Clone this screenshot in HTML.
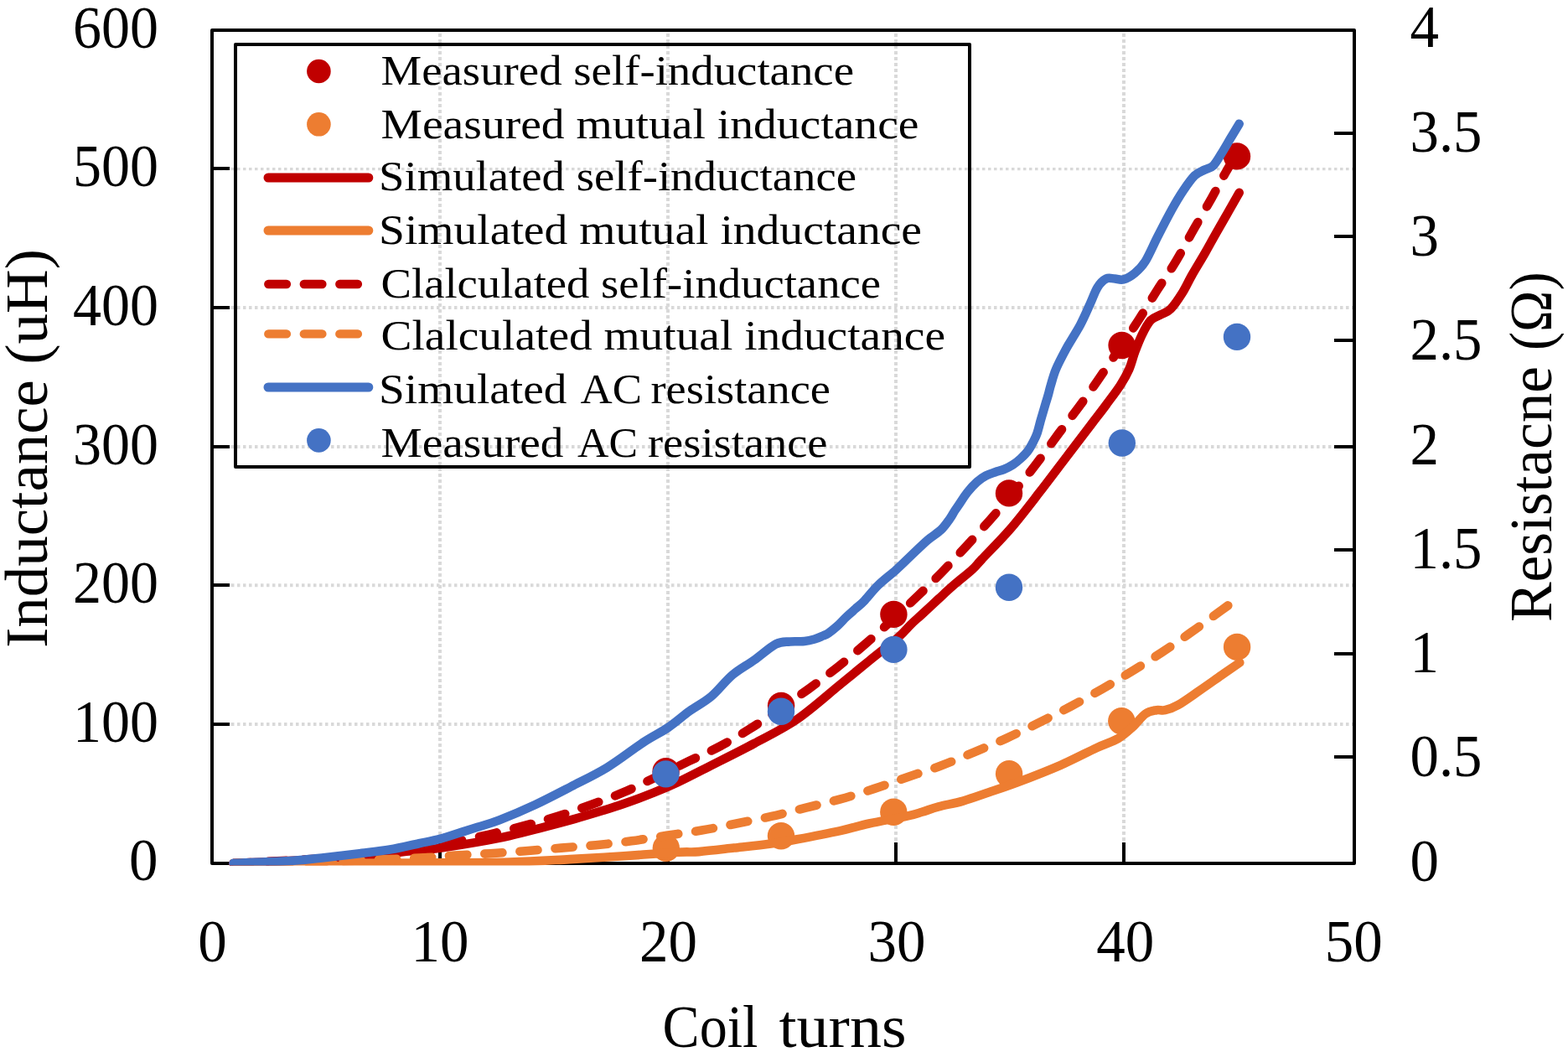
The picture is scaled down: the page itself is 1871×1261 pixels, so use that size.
<!DOCTYPE html>
<html lang="en"><head><meta charset="utf-8"><title>Inductance and resistance versus coil turns</title>
<style>html,body{margin:0;padding:0;background:#fff;overflow:hidden}svg{display:block}text{font-family:"Liberation Serif",serif;fill:#000}</style></head><body>
<svg width="1871" height="1261" viewBox="0 0 1871 1261">
<defs><clipPath id="plot"><rect x="240" y="30" width="1380" height="1002.5"/></clipPath></defs>
<rect width="1871" height="1261" fill="#fff"/>
<g stroke="#D9D9D9" fill="none">
<path stroke-width="3.4" stroke-dasharray="3.5 3.5" d="M255 201.6H1614"/>
<path stroke-width="4.0" stroke-dasharray="3.5 3.5" d="M255 367.1H1614"/>
<path stroke-width="4.0" stroke-dasharray="3.5 3.5" d="M255 533.0H1614"/>
<path stroke-width="4.0" stroke-dasharray="3.5 3.5" d="M255 698.2H1614"/>
<path stroke-width="4.0" stroke-dasharray="3.5 3.5" d="M255 864.1H1614"/>
<path stroke-width="4" stroke-dasharray="4 3" d="M525.0 40V1028"/>
<path stroke-width="4" stroke-dasharray="4 3" d="M797.0 40V1028"/>
<path stroke-width="4" stroke-dasharray="4 3" d="M1069.0 40V1028"/>
<path stroke-width="4" stroke-dasharray="4 3" d="M1341.0 40V1028"/>
</g>
<g stroke="#000" stroke-width="4" fill="none">
<rect x="253" y="36" width="1363" height="994" stroke-linejoin="round"/>
<path d="M253 201.0H274M253 367.0H274M253 533.0H274M253 698.0H274M253 864.0H274M1592 159.0H1616M1592 282.0H1616M1592 406.0H1616M1592 533.0H1616M1592 656.0H1616M1592 780.0H1616M1592 903.0H1616M525.0 1005V1030M797.0 1005V1030M1069.0 1005V1030M1341.0 1005V1030"/>
</g>
<g clip-path="url(#plot)">
<circle cx="794.6" cy="920.3" r="16.2" fill="#C00000"/><circle cx="932.1" cy="842.0" r="16.2" fill="#C00000"/><circle cx="1066.4" cy="732.9" r="16.2" fill="#C00000"/><circle cx="1204.0" cy="588.4" r="16.2" fill="#C00000"/><circle cx="1338.6" cy="412.0" r="16.2" fill="#C00000"/><circle cx="1476.0" cy="186.4" r="16.2" fill="#C00000"/>
<circle cx="794.8" cy="1011.8" r="16.2" fill="#ED7D31"/><circle cx="932.0" cy="997.2" r="16.2" fill="#ED7D31"/><circle cx="1066.3" cy="968.7" r="16.2" fill="#ED7D31"/><circle cx="1204.1" cy="923.2" r="16.2" fill="#ED7D31"/><circle cx="1338.3" cy="860.3" r="16.2" fill="#ED7D31"/><circle cx="1476.1" cy="771.9" r="16.2" fill="#ED7D31"/>
<g fill="none" stroke-width="10.6" stroke-linecap="round" stroke-linejoin="round">
<path stroke="#C00000" d="M278.5 1030.0C298.8 1029.0 363.1 1026.6 400.0 1024.0C436.9 1021.4 479.2 1016.3 500.0 1014.3C520.8 1012.2 513.3 1013.3 524.9 1011.7C536.5 1010.1 555.9 1007.1 569.8 1004.6C583.7 1002.1 595.5 999.9 608.3 997.0C621.1 994.1 634.0 990.6 646.8 987.3C659.6 984.0 673.0 980.5 685.2 977.1C697.4 973.7 710.2 969.8 720.0 966.8C729.8 963.8 734.1 962.5 744.1 959.0C754.1 955.5 769.3 950.0 780.0 945.7C790.7 941.4 796.9 938.8 808.3 933.4C819.7 928.0 833.2 920.9 848.5 913.2C863.8 905.5 882.8 896.2 899.9 887.0C917.0 877.8 934.2 869.8 951.3 858.0C968.4 846.2 988.4 828.1 1002.7 816.5C1017.0 804.9 1025.6 797.8 1037.0 788.5C1048.4 779.2 1062.9 768.2 1071.2 761.0C1079.5 753.8 1082.1 749.7 1086.9 745.0C1091.7 740.3 1094.5 738.1 1100.0 733.0C1105.5 727.9 1113.6 720.3 1119.9 714.5C1126.2 708.7 1131.0 704.1 1137.7 698.3C1144.4 692.5 1154.4 684.7 1160.0 679.6C1165.6 674.5 1163.7 675.6 1171.3 667.5C1178.9 659.4 1194.2 644.2 1205.6 631.0C1217.0 617.8 1228.4 602.8 1239.8 588.1C1251.2 573.5 1263.7 556.7 1274.1 543.1C1284.5 529.5 1294.4 516.5 1302.0 506.5C1309.6 496.5 1314.1 490.9 1319.9 483.0C1325.7 475.1 1332.4 466.4 1337.0 459.3C1341.6 452.2 1344.4 447.1 1347.3 440.5C1350.2 433.9 1351.6 426.9 1354.2 420.0C1356.8 413.1 1359.6 405.7 1362.7 399.4C1365.8 393.1 1369.3 386.2 1373.0 382.2C1376.7 378.2 1381.0 377.7 1385.0 375.4C1389.0 373.1 1392.7 372.8 1397.0 368.5C1401.3 364.2 1406.4 356.5 1410.7 349.7C1415.0 342.9 1418.1 335.5 1422.7 327.5C1427.3 319.5 1433.3 309.8 1438.1 301.5C1442.9 293.2 1444.5 289.8 1451.3 277.9C1458.1 266.0 1474.1 237.9 1478.7 229.9"/>
<path stroke="#ED7D31" d="M278.5 1030.0C315.4 1029.9 445.1 1029.8 500.0 1029.5C554.9 1029.2 578.0 1029.2 608.0 1028.5C638.0 1027.8 657.3 1026.3 680.0 1025.1C702.7 1023.9 722.6 1022.6 744.1 1021.2C765.6 1019.8 794.1 1017.6 809.1 1016.7C824.1 1015.9 822.8 1017.0 833.9 1016.1C845.0 1015.2 861.5 1013.2 875.9 1011.6C890.2 1010.0 907.4 1008.2 920.0 1006.5C932.6 1004.8 937.5 1003.9 951.3 1001.3C965.1 998.7 988.4 994.2 1002.7 991.1C1017.0 988.0 1023.7 985.4 1037.0 982.5C1050.3 979.6 1071.8 975.9 1082.3 973.6C1092.8 971.3 1093.7 970.7 1100.0 968.8C1106.3 966.9 1111.8 964.6 1120.0 962.4C1128.2 960.2 1139.1 958.5 1149.1 955.6C1159.1 952.8 1169.1 949.0 1179.9 945.3C1190.8 941.6 1199.9 938.7 1214.2 933.3C1228.5 927.9 1249.9 919.6 1265.6 912.8C1281.3 905.9 1297.0 897.5 1308.4 892.2C1319.8 886.9 1327.0 885.2 1334.1 881.1C1341.2 877.0 1345.8 872.5 1351.2 867.6C1356.6 862.7 1361.8 855.1 1366.6 851.7C1371.4 848.3 1376.1 848.0 1380.0 847.2C1383.9 846.5 1385.9 848.2 1390.2 847.2C1394.5 846.2 1398.8 845.1 1405.6 841.2C1412.4 837.3 1422.7 829.8 1431.3 823.9C1439.9 818.0 1449.0 811.5 1457.0 805.9C1465.0 800.3 1475.6 793.1 1479.3 790.5"/>
<path stroke="#C00000" stroke-dasharray="21.2 21.13" stroke-dashoffset="0.7" d="M278.5 1030.0C298.8 1028.8 363.1 1026.2 400.0 1023.0C436.9 1019.8 476.7 1014.1 500.0 1011.0C523.3 1007.9 526.2 1007.0 540.0 1004.5C553.8 1002.0 568.6 999.0 582.6 995.8C596.6 992.6 610.6 989.1 624.3 985.5C638.0 981.9 651.2 978.2 664.7 974.0C678.2 969.8 692.0 964.9 705.4 960.0C718.8 955.1 731.9 950.4 744.8 944.9C757.7 939.4 770.1 933.1 783.0 927.0C795.9 920.9 809.4 914.2 822.0 908.1C834.6 902.0 846.7 896.9 858.8 890.5C870.9 884.1 882.9 877.0 894.8 869.6C906.7 862.2 918.2 854.0 930.0 846.0C941.8 838.0 953.9 829.9 965.4 821.6C976.9 813.3 987.8 805.1 998.9 796.3C1010.0 787.5 1021.1 778.1 1031.8 768.9C1042.5 759.7 1052.6 750.5 1063.0 741.0C1073.4 731.5 1083.8 721.8 1094.0 712.0C1104.2 702.2 1114.4 692.5 1124.2 682.4C1134.0 672.3 1143.4 662.0 1153.0 651.6C1162.6 641.2 1172.3 630.5 1181.6 619.9C1190.9 609.3 1200.0 598.9 1209.0 588.0C1218.0 577.1 1226.5 566.5 1235.5 554.8C1244.5 543.0 1254.5 528.9 1263.0 517.5C1271.5 506.1 1278.5 497.5 1286.5 486.7C1294.5 475.9 1302.7 464.1 1310.8 452.5C1318.9 440.9 1327.0 428.8 1335.0 417.0C1343.0 405.2 1350.9 393.7 1358.5 381.9C1366.1 370.1 1373.3 357.9 1380.7 346.3C1388.1 334.7 1395.7 324.1 1403.0 312.0C1410.3 299.9 1417.3 286.1 1424.4 273.6C1431.5 261.1 1439.2 248.1 1445.5 236.8C1451.8 225.5 1456.8 215.8 1462.4 206.0C1468.0 196.2 1476.2 182.7 1479.0 178.0"/>
<path stroke="#ED7D31" stroke-dasharray="21.2 21.02" stroke-dashoffset="-4.5" d="M278.5 1030.0C298.8 1029.6 363.1 1028.6 400.0 1027.5C436.9 1026.4 476.2 1024.7 500.0 1023.5C523.8 1022.4 528.7 1021.5 542.9 1020.6C557.1 1019.7 571.2 1019.1 585.2 1018.2C599.2 1017.3 613.1 1016.4 627.1 1015.3C641.1 1014.2 655.5 1012.8 669.5 1011.6C683.5 1010.4 697.0 1009.6 711.0 1008.2C725.0 1006.8 739.3 1005.2 753.4 1003.3C767.5 1001.4 781.4 998.9 795.4 996.8C809.4 994.7 823.5 993.0 837.4 990.6C851.3 988.2 864.9 985.3 878.8 982.5C892.6 979.7 906.7 977.0 920.5 973.9C934.3 970.8 947.9 967.0 961.6 963.6C975.3 960.2 989.1 957.2 1002.7 953.4C1016.3 949.6 1029.9 945.3 1043.3 940.9C1056.7 936.5 1069.8 931.6 1083.2 927.0C1096.6 922.4 1110.2 918.2 1123.4 913.3C1136.6 908.3 1149.4 902.8 1162.4 897.3C1175.4 891.8 1188.5 886.5 1201.3 880.6C1214.1 874.8 1226.8 868.5 1239.5 862.2C1252.2 855.9 1264.7 849.6 1277.2 843.0C1289.7 836.4 1302.2 829.4 1314.5 822.4C1326.8 815.4 1338.8 808.1 1350.8 800.7C1362.8 793.3 1374.6 786.0 1386.4 778.2C1398.2 770.5 1409.9 762.4 1421.5 754.2C1433.1 746.1 1446.1 736.3 1455.8 729.3C1465.5 722.3 1475.5 714.9 1479.5 712.0"/>
<path stroke="#4472C4" d="M278.5 1029.8C290.4 1029.3 331.5 1027.9 349.8 1026.8C368.1 1025.7 375.5 1024.4 388.3 1023.0C401.1 1021.6 414.0 1020.1 426.8 1018.5C439.6 1016.9 453.0 1015.6 465.2 1013.6C477.4 1011.6 490.1 1008.3 500.0 1006.2C509.9 1004.1 516.1 1003.2 524.9 1000.9C533.7 998.5 545.5 994.5 553.0 992.1C560.5 989.8 562.7 989.1 569.8 986.8C576.9 984.5 584.3 982.9 595.8 978.4C607.3 973.9 624.4 966.7 638.7 960.0C653.0 953.3 667.2 945.8 681.5 938.4C695.8 931.0 710.0 924.4 724.3 915.7C738.6 907.0 755.0 894.0 767.1 886.0C779.2 878.0 787.8 874.3 797.1 868.0C806.4 861.7 814.2 854.5 822.8 848.3C831.4 842.1 839.9 838.2 848.5 831.0C857.1 823.8 865.6 812.2 874.2 805.0C882.8 797.8 891.3 793.6 899.9 787.5C908.5 781.4 918.5 772.2 925.6 768.5C932.7 764.8 937.0 766.0 942.7 765.4C948.4 764.8 955.0 765.6 959.9 765.1C964.8 764.6 968.3 763.6 972.0 762.5C975.7 761.4 979.2 759.7 982.0 758.5C984.8 757.3 985.6 757.3 988.5 755.3C991.4 753.3 995.6 749.9 999.2 746.7C1002.8 743.5 1006.3 739.4 1009.9 736.0C1013.5 732.6 1017.0 729.6 1020.6 726.4C1024.2 723.2 1026.8 721.5 1031.3 716.8C1035.8 712.1 1041.5 704.4 1047.8 698.3C1054.1 692.2 1062.3 686.1 1069.0 680.1C1075.7 674.1 1081.7 668.0 1088.0 662.0C1094.3 656.0 1100.9 649.4 1106.7 644.4C1112.5 639.4 1118.3 636.5 1122.8 632.2C1127.2 628.0 1130.7 622.6 1133.4 618.9C1136.1 615.2 1137.0 612.8 1138.8 610.0C1140.6 607.2 1141.5 606.0 1144.1 602.3C1146.7 598.5 1150.6 592.0 1154.2 587.5C1157.8 583.0 1162.0 578.3 1165.7 575.0C1169.4 571.7 1172.8 569.4 1176.4 567.5C1180.0 565.6 1183.5 564.6 1187.1 563.4C1190.7 562.1 1194.2 561.5 1197.8 560.0C1201.4 558.5 1205.1 556.7 1208.5 554.5C1211.9 552.3 1215.0 549.8 1218.0 547.0C1221.0 544.2 1224.0 541.3 1226.5 538.0C1229.0 534.7 1231.2 530.5 1233.0 527.0C1234.8 523.5 1236.1 521.1 1237.5 517.0C1238.9 512.9 1240.3 506.8 1241.5 502.5C1242.7 498.2 1243.6 495.1 1244.7 491.4C1245.8 487.7 1246.9 483.9 1248.0 480.3C1249.1 476.7 1250.1 473.6 1251.1 470.0C1252.1 466.4 1252.5 463.9 1254.0 459.0C1255.5 454.1 1257.0 447.6 1260.0 440.5C1263.0 433.4 1267.2 425.4 1272.0 416.5C1276.8 407.6 1284.2 396.5 1289.1 387.4C1293.9 378.3 1297.7 369.1 1301.1 361.7C1304.5 354.3 1306.5 347.7 1309.6 342.8C1312.7 337.9 1316.5 334.2 1319.9 332.5C1323.3 330.8 1326.8 332.4 1330.2 332.5C1333.6 332.6 1336.5 334.5 1340.5 333.4C1344.5 332.3 1349.9 329.3 1354.2 325.7C1358.5 322.1 1362.0 319.1 1366.5 312.0C1371.0 304.9 1375.8 293.2 1381.0 283.0C1386.2 272.8 1392.8 259.9 1398.0 250.5C1403.2 241.1 1407.9 233.3 1412.5 226.5C1417.1 219.7 1421.4 213.4 1425.6 209.4C1429.8 205.4 1433.9 204.5 1437.6 202.5C1441.3 200.5 1444.5 200.8 1447.9 197.4C1451.3 194.0 1454.8 187.4 1458.2 182.0C1461.6 176.6 1465.0 170.5 1468.4 164.8C1471.8 159.1 1477.0 150.5 1478.7 147.7"/>
</g>
<circle cx="794.5" cy="923.4" r="16.2" fill="#4472C4"/><circle cx="932.0" cy="848.8" r="16.2" fill="#4472C4"/><circle cx="1066.4" cy="774.9" r="16.2" fill="#4472C4"/><circle cx="1204.0" cy="700.8" r="16.2" fill="#4472C4"/><circle cx="1338.8" cy="528.5" r="16.2" fill="#4472C4"/><circle cx="1476.0" cy="401.9" r="16.2" fill="#4472C4"/>
</g>
<rect x="281" y="53" width="876" height="504" fill="none" stroke="#000" stroke-width="4" stroke-linejoin="round"/>
<g fill="none" stroke-width="11" stroke-linecap="round">
<circle cx="380.4" cy="85.0" r="14.3" fill="#C00000" stroke="none"/>
<circle cx="380.4" cy="148.3" r="14.3" fill="#ED7D31" stroke="none"/>
<path stroke="#C00000" d="M320 212.0H439.8"/>
<path stroke="#ED7D31" d="M320 275.0H439.8"/>
<path stroke="#C00000" stroke-width="10.4" stroke-dasharray="21.6 20.9" d="M320.3 339.0H430"/>
<path stroke="#ED7D31" stroke-width="10.4" stroke-dasharray="21.6 20.9" d="M320.3 398.4H430"/>
<path stroke="#4472C4" d="M320 462.0H439.8"/>
<circle cx="380.4" cy="525.4" r="14.3" fill="#4472C4" stroke="none"/>
</g>
<g>
<text x="454.5" y="101.3" font-size="51.0" textLength="564.5" lengthAdjust="spacingAndGlyphs">Measured self-inductance</text>
<text x="454.5" y="164.8" font-size="51.0" textLength="642.0" lengthAdjust="spacingAndGlyphs">Measured mutual inductance</text>
<text x="452.0" y="227.2" font-size="51.0" textLength="570.0" lengthAdjust="spacingAndGlyphs">Simulated self-inductance</text>
<text x="452.0" y="290.7" font-size="51.0" textLength="648.0" lengthAdjust="spacingAndGlyphs">Simulated mutual inductance</text>
<text x="454.5" y="354.6" font-size="51.0" textLength="596.5" lengthAdjust="spacingAndGlyphs">Clalculated self-inductance</text>
<text x="454.5" y="416.9" font-size="51.0" textLength="673.5" lengthAdjust="spacingAndGlyphs">Clalculated mutual inductance</text>
<text y="481.3" font-size="51.0"><tspan x="452.0" textLength="224.5" lengthAdjust="spacingAndGlyphs">Simulated</tspan> <tspan x="692.5" textLength="73.5" lengthAdjust="spacingAndGlyphs">AC</tspan> <tspan x="776.5" textLength="214.5" lengthAdjust="spacingAndGlyphs">resistance</tspan></text>
<text y="544.6" font-size="51.0"><tspan x="454.5" textLength="218.0" lengthAdjust="spacingAndGlyphs">Measured</tspan> <tspan x="689.0" textLength="72.0" lengthAdjust="spacingAndGlyphs">AC</tspan> <tspan x="773.0" textLength="214.5" lengthAdjust="spacingAndGlyphs">resistance</tspan></text>
</g><g>
<text x="87.0" y="56.8" font-size="71.5" textLength="102.0" lengthAdjust="spacingAndGlyphs">600</text>
<text x="87.0" y="222.4" font-size="71.5" textLength="102.0" lengthAdjust="spacingAndGlyphs">500</text>
<text x="87.0" y="388.0" font-size="71.5" textLength="102.0" lengthAdjust="spacingAndGlyphs">400</text>
<text x="87.0" y="553.6" font-size="71.5" textLength="102.0" lengthAdjust="spacingAndGlyphs">300</text>
<text x="87.0" y="719.2" font-size="71.5" textLength="102.0" lengthAdjust="spacingAndGlyphs">200</text>
<text x="87.0" y="884.8" font-size="71.5" textLength="102.0" lengthAdjust="spacingAndGlyphs">100</text>
<text x="154.0" y="1050.3" font-size="71.5" textLength="34.5" lengthAdjust="spacingAndGlyphs">0</text>
<text x="236.2" y="1146.8" font-size="71.5" textLength="34.5" lengthAdjust="spacingAndGlyphs">0</text>
<text x="490.4" y="1146.8" font-size="71.5" textLength="69.0" lengthAdjust="spacingAndGlyphs">10</text>
<text x="763.0" y="1146.8" font-size="71.5" textLength="69.0" lengthAdjust="spacingAndGlyphs">20</text>
<text x="1035.6" y="1146.8" font-size="71.5" textLength="69.0" lengthAdjust="spacingAndGlyphs">30</text>
<text x="1308.2" y="1146.8" font-size="71.5" textLength="69.0" lengthAdjust="spacingAndGlyphs">40</text>
<text x="1580.8" y="1146.8" font-size="71.5" textLength="69.0" lengthAdjust="spacingAndGlyphs">50</text>
<text x="1682.5" y="56.3" font-size="71.5" textLength="34.5" lengthAdjust="spacingAndGlyphs">4</text>
<text x="1682.5" y="180.6" font-size="71.5" textLength="86.0" lengthAdjust="spacingAndGlyphs">3.5</text>
<text x="1682.5" y="304.9" font-size="71.5" textLength="34.5" lengthAdjust="spacingAndGlyphs">3</text>
<text x="1682.5" y="429.2" font-size="71.5" textLength="86.0" lengthAdjust="spacingAndGlyphs">2.5</text>
<text x="1682.5" y="553.5" font-size="71.5" textLength="34.5" lengthAdjust="spacingAndGlyphs">2</text>
<text x="1682.5" y="677.8" font-size="71.5" textLength="86.0" lengthAdjust="spacingAndGlyphs">1.5</text>
<text x="1682.5" y="802.1" font-size="71.5" textLength="34.5" lengthAdjust="spacingAndGlyphs">1</text>
<text x="1682.5" y="926.4" font-size="71.5" textLength="86.0" lengthAdjust="spacingAndGlyphs">0.5</text>
<text x="1682.5" y="1050.7" font-size="71.5" textLength="34.5" lengthAdjust="spacingAndGlyphs">0</text>
</g>
<text transform="translate(56.1 773.0) rotate(-90)" font-size="71.0" textLength="476.0" lengthAdjust="spacingAndGlyphs">Inductance (uH)</text>
<text transform="translate(1851.4 742.0) rotate(-90)" font-size="71.0"><tspan x="0.0" textLength="305.0" lengthAdjust="spacingAndGlyphs">Resistacne</tspan> <tspan x="324.0" textLength="93.5" lengthAdjust="spacingAndGlyphs">(Ω)</tspan></text>
<text y="1248.8" font-size="71.0"><tspan x="790.5" textLength="114.0" lengthAdjust="spacingAndGlyphs">Coil</tspan> <tspan x="929.5" textLength="152.0" lengthAdjust="spacingAndGlyphs">turns</tspan></text>
</svg></body></html>
